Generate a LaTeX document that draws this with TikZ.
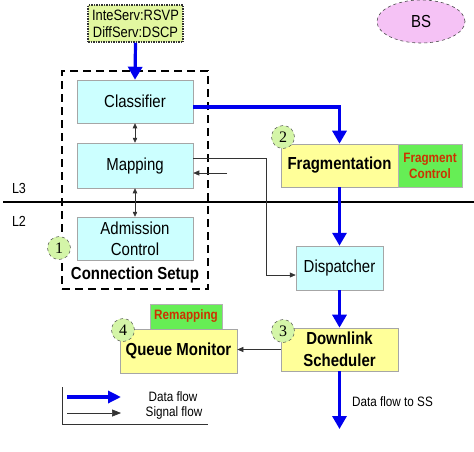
\documentclass[tikz,border=0pt]{standalone}
\usepackage{fontspec}
\setmainfont{Liberation Sans}[FakeStretch=0.86]
\newfontfamily\numfont{Liberation Serif}
\usetikzlibrary{arrows.meta,shapes.geometric}
\definecolor{cyanbox}{HTML}{CCFFFF}
\definecolor{yelbox}{HTML}{FFFF99}
\definecolor{grnbox}{HTML}{66EE55}
\definecolor{inbox}{HTML}{E2F7A0}
\definecolor{circfill}{HTML}{D4F5A8}
\definecolor{bspink}{HTML}{F5C2F5}
\definecolor{redtxt}{HTML}{CC3300}
\definecolor{dflow}{HTML}{0000EE}
\tikzset{
  cyanstyle/.style={rectangle, fill=cyanbox, draw=gray!70, line width=0.5pt, inner sep=0pt, align=center, font=\fontsize{17.4}{21}\selectfont},
  yelstyle/.style={rectangle, fill=yelbox, draw=gray!70, line width=0.6pt, inner sep=0pt, align=center, font=\bfseries\fontsize{17.4}{22}\selectfont},
  grnstyle/.style={rectangle, fill=grnbox, draw=gray!60, line width=0.5pt, inner sep=0pt, align=center, text=redtxt, font=\bfseries\fontsize{13.6}{16}\selectfont},
  numcirc/.style={circle, fill=circfill, draw=black!70, dashed, line width=0.5pt, minimum size=23pt, inner sep=0pt, font=\numfont\fontsize{16}{16}\selectfont},
  dataflow/.style={draw=dflow, line width=3.2pt, -{Triangle[length=13pt,width=14pt]}},
  sigflow/.style={draw=black!80, line width=0.6pt, -{Triangle[length=6pt,width=5pt]}},
  dblsig/.style={draw=black!80, line width=0.6pt, {Triangle[length=5pt,width=4.5pt]}-{Triangle[length=5pt,width=4.5pt]}},
  plaintext/.style={inner sep=0pt, font=\fontsize{13.6}{14}\selectfont}
}
\begin{document}
\begin{tikzpicture}[x=1pt,y=-1pt]
\useasboundingbox[fill=white] (0,0) rectangle (474,451);

% BS ellipse
\node[ellipse, fill=bspink, draw=black!70, dashed, line width=0.6pt, minimum width=88pt, minimum height=43pt, inner sep=0pt, font=\fontsize{17.4}{17}\selectfont] (bs) at (421,21.5) {BS};

% input box
\node[rectangle, fill=inbox, draw=black!80, densely dotted, line width=1.5pt, minimum width=95pt, minimum height=37pt, inner sep=0pt, align=center, font=\fontsize{15}{17}\selectfont] (input) at (135.5,23.5) {InteServ:RSVP\\DiffServ:DSCP};

% connection setup dashed box
\node[rectangle, draw=black, line width=2.2pt, dash pattern=on 8pt off 5pt, minimum width=146pt, minimum height=218pt, inner sep=0pt] (setup) at (135,180) {};

\node[cyanstyle, minimum width=116pt, minimum height=43pt] (classifier) at (135,101.5) {Classifier};
\node[cyanstyle, minimum width=116pt, minimum height=45pt] (mapping) at (135,165.5) {Mapping};
\node[cyanstyle, minimum width=116pt, minimum height=43pt] (admission) at (135,238.5) {Admission\\Control};
\node[inner sep=0pt, font=\bfseries\fontsize{17.4}{17}\selectfont] (setuplabel) at (135,275) {Connection Setup};
\node[numcirc] (c1) at (59,248) {1};

% layer line
\coordinate (lleft) at (3,202);
\coordinate (lright) at (474,202);
\draw[line width=2.6pt] (lleft) -- (lright);
\node[inner sep=0pt, font=\fontsize{14.6}{14}\selectfont] (l3) at (19,188) {L3};
\node[inner sep=0pt, font=\fontsize{14.6}{14}\selectfont] (l2) at (19,221) {L2};

% fragmentation
\node[yelstyle, minimum width=117pt, minimum height=43pt] (frag) at (339.5,165.5) {Fragmentation};
\node[grnstyle, minimum width=64pt, minimum height=43pt] (fragctl) at (430,165.5) {Fragment\\Control};
\node[numcirc] (c2) at (283,137) {2};

\node[cyanstyle, minimum width=87pt, minimum height=44pt] (dispatcher) at (339.5,268) {Dispatcher};

\node[yelstyle, minimum width=117pt, minimum height=43pt] (downlink) at (339.5,349.5) {Downlink\\Scheduler};
\node[numcirc] (c3) at (283,331) {3};

\node[grnstyle, minimum width=72pt, minimum height=25pt] (remap) at (186,316.5) {Remapping};
\node[yelstyle, minimum width=117pt, minimum height=44pt] (queue) at (178.5,351) {Queue Monitor};
\node[numcirc] (c4) at (123,330) {4};

% data flows
\draw[dataflow] (input.south) -- (classifier.north);
\draw[dataflow] ([yshift=-5.5pt]classifier.east) -| (frag.north);
\draw[dataflow] (frag.south) -- (dispatcher.north);
\draw[dataflow] (dispatcher.south) -- (downlink.north);
\coordinate (ss) at (339.5,429);
\draw[dataflow] (downlink.south) -- (ss);
\node[plaintext, anchor=west] (sslabel) at (352,402) {Data flow to SS};

% signal flows
\draw[dblsig] (classifier.south) -- (mapping.north);
\draw[dblsig] (mapping.south) -- (admission.north);
\coordinate (sigbend) at (266,158);
\draw[sigflow] ([yshift=7.5pt]mapping.east) -- (sigbend) |- ([yshift=-7pt]dispatcher.west);
\coordinate (stub) at (227,173);
\draw[sigflow] (stub) -- (stub -| mapping.east);
\draw[sigflow] (downlink.west) -- (downlink.west -| queue.east);

% legend
\coordinate (lgtop) at (62,387);
\coordinate (lgcorner) at (62,424);
\coordinate (lgend) at (208,424);
\draw[black!80, line width=0.8pt] (lgtop) -- (lgcorner) -- (lgend);
\coordinate (d1) at (67,397);
\coordinate (d2) at (121,397);
\coordinate (s1) at (67,413);
\coordinate (s2) at (121,413);
\draw[draw=dflow, line width=3.2pt, -{Triangle[length=13pt,width=12pt]}] (d1) -- (d2);
\draw[draw=black!80, line width=0.7pt, -{Triangle[length=9pt,width=7pt]}] (s1) -- (s2);
\node[plaintext] (lgdata) at (173,397) {Data flow};
\node[plaintext] (lgsig) at (174,413) {Signal flow};
\end{tikzpicture}
\end{document}
